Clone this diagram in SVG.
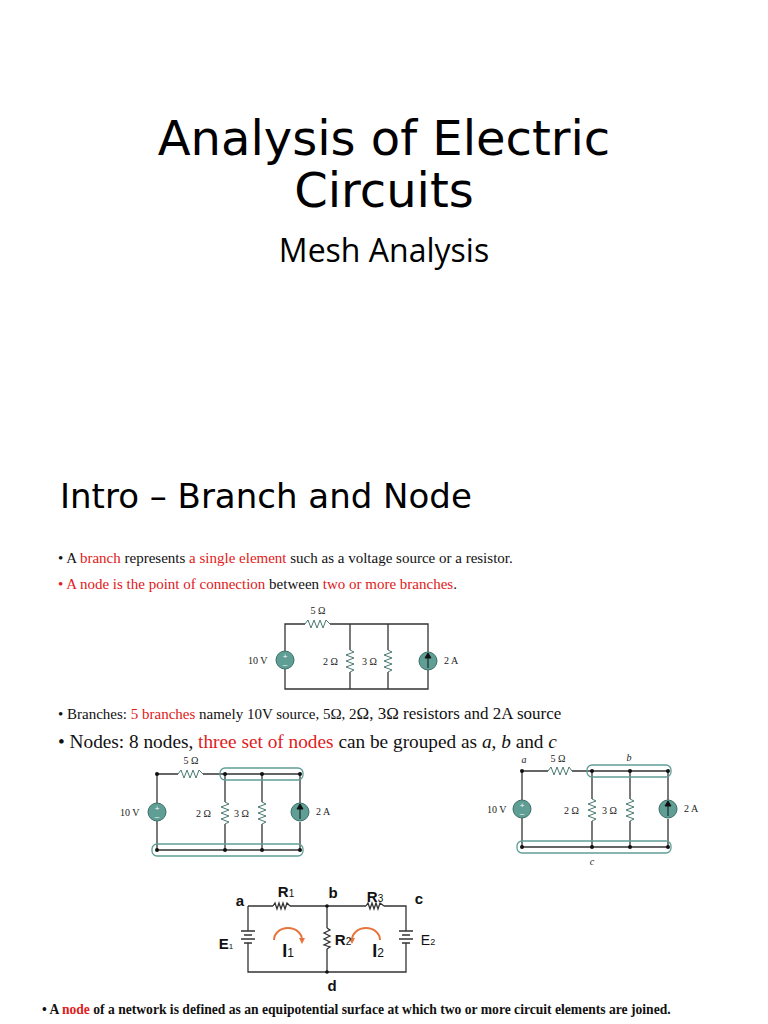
<svg xmlns="http://www.w3.org/2000/svg" width="768" height="1024" viewBox="0 0 768 1024">
<style>
.w{stroke:#333;stroke-width:1.3;fill:none}
.r{stroke:#4a7a70;stroke-width:1;fill:none}
.src{fill:#5f9e95;stroke:#3d6e66;stroke-width:1}
.hl{fill:none;stroke:#5f9e95;stroke-width:1.3}
.s{font-family:"Liberation Serif",serif;font-size:10px;fill:#222}
.b{font-family:"Liberation Serif",serif;fill:#111}
.red{fill:#e0201a}
.c4{font-family:"Liberation Sans",sans-serif;font-weight:bold;font-size:15px;fill:#111}
.dot{fill:#111}
.pm{font-family:"Liberation Sans",sans-serif;font-size:8px;fill:#fff}
</style>
<rect width="768" height="1024" fill="#fff"/>
<g id="title" font-family="DejaVu Sans,sans-serif" text-anchor="middle" fill="#000">
<text x="384" y="155" font-size="48">Analysis of Electric</text>
<text x="384" y="207" font-size="48">Circuits</text>
<text x="384" y="262" font-size="32" font-family="Open Sans,sans-serif">Mesh Analysis</text>
</g>
<text x="60" y="508" font-family="DejaVu Sans,sans-serif" font-size="34" fill="#000">Intro – Branch and Node</text>
<g id="bullets">
<text x="58" y="563" class="b" font-size="15">• A <tspan class="red">branch</tspan> represents <tspan class="red">a single element</tspan> such as a voltage source or a resistor.</text>
<text x="58" y="589" class="b red" font-size="15">• A node is the point of connection <tspan fill="#111">between </tspan>two or more branches<tspan fill="#111">.</tspan></text>
<text x="58" y="719" class="b" font-size="15">• Branches: <tspan class="red">5 branches</tspan> namely 10V source, 5Ω, 2<tspan font-size="17">Ω, 3Ω resistors and 2A source</tspan></text>
<text x="58" y="748" class="b" font-size="19.3">• Nodes: 8 nodes, <tspan class="red">three set of nodes</tspan> can be grouped as <tspan font-style="italic">a</tspan>, <tspan font-style="italic">b</tspan> and <tspan font-style="italic">c</tspan></text>
<text x="42" y="1014" class="b" font-size="13.6" font-weight="bold">•  A <tspan class="red">node</tspan> of a network is defined as an equipotential surface at which two or more circuit elements are joined.</text>
</g>
<g id="circuit1">
<path class="w" d="M305,624 H285 V651 M285,669 V689 H428 V670 M428,652 V624 H330 M350,624 V650 M350,672 V689 M388,624 V650 M388,672 V689"/>
<polyline class="r" points="305,624 308,620 311,628 314,620 317,628 320,620 323,628 326,620 330,624"/>
<polyline class="r" points="350,650 354,652 346,655 354,658 346,661 354,664 346,667 354,670 350,672"/>
<polyline class="r" points="388,650 392,652 384,655 392,658 384,661 392,664 384,667 392,670 388,672"/>
<circle class="src" cx="285" cy="660" r="9"/>
<text x="285" y="659" class="pm" text-anchor="middle">+</text><text x="285" y="667" class="pm" text-anchor="middle">–</text>
<circle class="src" cx="428" cy="661" r="9"/>
<path d="M428,668 V656 M425,658 L428,653 L431,658 Z" stroke="#111" fill="#111"/>
<text x="318" y="614" class="s" text-anchor="middle">5 Ω</text>
<text x="248" y="664" class="s">10 V</text>
<text x="323" y="665" class="s">2 Ω</text>
<text x="362" y="665" class="s">3 Ω</text>
<text x="444" y="664" class="s">2 A</text>
</g>
<g id="circuit2">
<path class="w" d="M178,774 H157 V803 M157,821 V850 H300 V822 M300,803 V774 H203 M225,774 V802 M225,824 V850 M262,774 V802 M262,824 V850"/>
<polyline class="r" points="178,774 181,770 184,778 187,770 190,778 193,770 196,778 199,770 203,774"/>
<polyline class="r" points="225,802 229,804 221,807 229,810 221,813 229,816 221,819 229,822 225,824"/>
<polyline class="r" points="262,802 266,804 258,807 266,810 258,813 266,816 258,819 266,822 262,824"/>
<circle class="src" cx="157" cy="812" r="9"/>
<text x="157" y="811" class="pm" text-anchor="middle">+</text><text x="157" y="819" class="pm" text-anchor="middle">–</text>
<circle class="src" cx="300" cy="812" r="9"/>
<path d="M300,819 V807 M297,809 L300,804 L303,809 Z" stroke="#111" fill="#111"/>
<rect class="hl" x="220" y="768" width="83" height="12" rx="5"/>
<rect class="hl" x="152" y="844" width="151" height="12" rx="5"/>
<g class="dot"><circle cx="157" cy="774" r="2"/><circle cx="225" cy="774" r="2"/><circle cx="262" cy="774" r="2"/><circle cx="300" cy="774" r="2"/><circle cx="157" cy="850" r="2"/><circle cx="225" cy="850" r="2"/><circle cx="262" cy="850" r="2"/><circle cx="300" cy="850" r="2"/></g>
<text x="191" y="764" class="s" text-anchor="middle">5 Ω</text>
<text x="120" y="816" class="s">10 V</text>
<text x="196" y="817" class="s">2 Ω</text>
<text x="234" y="817" class="s">3 Ω</text>
<text x="316" y="815" class="s">2 A</text>
</g>
<g id="circuit3">
<path class="w" d="M548,771 H522 V800 M522,818 V847 H668 V819 M668,800 V771 H572 M592,771 V799 M592,821 V847 M630,771 V799 M630,821 V847"/>
<polyline class="r" points="548,771 551,767 554,775 557,767 560,775 563,767 566,775 569,767 572,771"/>
<polyline class="r" points="592,799 596,801 588,804 596,807 588,810 596,813 588,816 596,819 592,821"/>
<polyline class="r" points="630,799 634,801 626,804 634,807 626,810 634,813 626,816 634,819 630,821"/>
<circle class="src" cx="522" cy="809" r="9"/>
<text x="522" y="808" class="pm" text-anchor="middle">+</text><text x="522" y="816" class="pm" text-anchor="middle">–</text>
<circle class="src" cx="668" cy="809" r="9"/>
<path d="M668,816 V804 M665,806 L668,801 L671,806 Z" stroke="#111" fill="#111"/>
<rect class="hl" x="587" y="765" width="84" height="12" rx="5"/>
<rect class="hl" x="517" y="841" width="154" height="12" rx="5"/>
<g class="dot"><circle cx="522" cy="771" r="2"/><circle cx="592" cy="771" r="2"/><circle cx="630" cy="771" r="2"/><circle cx="668" cy="771" r="2"/><circle cx="522" cy="847" r="2"/><circle cx="592" cy="847" r="2"/><circle cx="630" cy="847" r="2"/><circle cx="668" cy="847" r="2"/></g>
<text x="524" y="763" class="s" font-style="italic" text-anchor="middle">a</text>
<text x="558" y="762" class="s" text-anchor="middle">5 Ω</text>
<text x="629" y="761" class="s" font-style="italic" text-anchor="middle">b</text>
<text x="592" y="865" class="s" font-style="italic" text-anchor="middle">c</text>
<text x="487" y="813" class="s">10 V</text>
<text x="564" y="814" class="s">2 Ω</text>
<text x="602" y="814" class="s">3 Ω</text>
<text x="684" y="812" class="s">2 A</text>
</g>
<g id="circuit4">
<path class="w" d="M248,906 H273 M290,906 H366 M384,906 H406 V931 M406,943 V972 H248 V943 M248,931 V906 M327,906 V928 M327,949 V972"/>
<polyline class="w" points="273,906 275,903 277,909 279,903 281,909 283,903 285,909 287,903 290,906"/>
<polyline class="w" points="366,906 368,903 370,909 372,903 374,909 376,903 378,909 380,903 384,906"/>
<polyline class="w" points="327,928 330,930 324,933 330,936 324,939 330,942 324,945 330,947 327,949"/>
<path class="w" d="M241,931 H255 M244,935 H252 M241,939 H255 M244,943 H252 M399,931 H413 M402,935 H410 M399,939 H413 M402,943 H410"/>
<circle class="dot" cx="327" cy="906" r="1.8"/><circle class="dot" cx="327" cy="972" r="1.8"/>
<path d="M274,940 A14,12 0 0 1 302,940 M352,940 A14,12 0 0 1 380,940" stroke="#e8743b" stroke-width="2" fill="none"/>
<path d="M299,938 L302,944 L305,938 Z M349,938 L352,944 L355,938 Z" fill="#e8743b"/>
<text x="240" y="906" class="c4" text-anchor="middle">a</text>
<text x="286" y="897" class="c4" text-anchor="middle">R<tspan font-size="10" font-weight="normal">1</tspan></text>
<text x="333" y="898" class="c4" text-anchor="middle">b</text>
<text x="375" y="902" class="c4" text-anchor="middle">R<tspan font-size="10" font-weight="normal">3</tspan></text>
<text x="419" y="904" class="c4" text-anchor="middle">c</text>
<text x="226" y="949" class="c4" text-anchor="middle">E<tspan font-size="8" font-weight="normal">1</tspan></text>
<text x="343" y="945" class="c4" text-anchor="middle">R<tspan font-size="10" font-weight="normal">2</tspan></text>
<text x="428" y="945" font-family="Liberation Sans,sans-serif" font-size="14" fill="#111" text-anchor="middle">E<tspan font-size="9">2</tspan></text>
<text x="288" y="957" class="c4" style="font-size:18px" text-anchor="middle">I<tspan font-size="12" font-weight="normal">1</tspan></text>
<text x="378" y="957" class="c4" style="font-size:18px" text-anchor="middle">I<tspan font-size="12" font-weight="normal">2</tspan></text>
<text x="332" y="991" class="c4" text-anchor="middle">d</text>
</g>
</svg>
